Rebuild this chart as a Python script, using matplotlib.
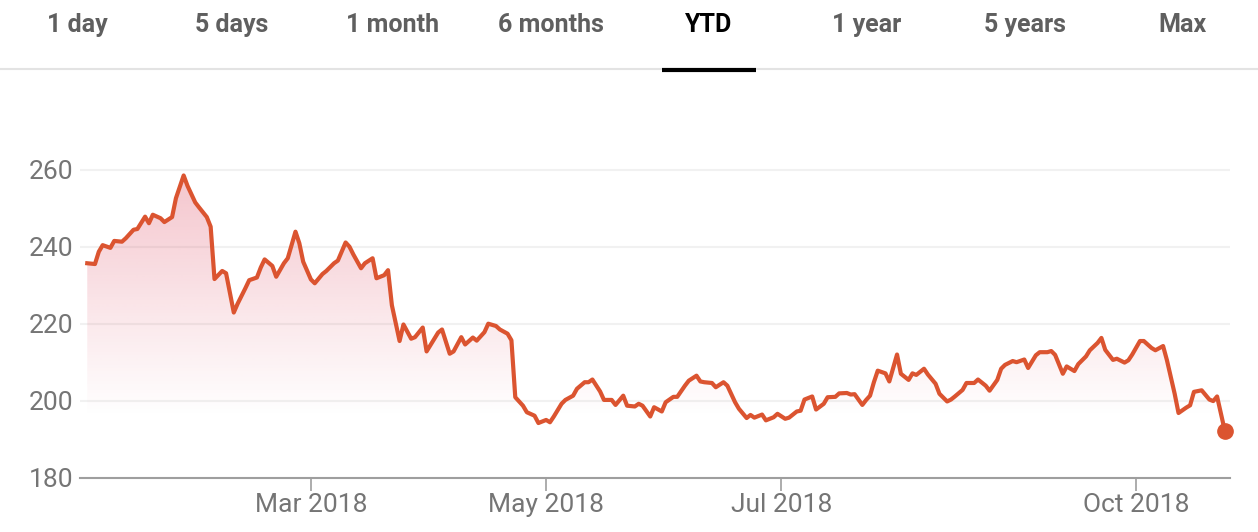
import numpy as np
import pandas as pd
import matplotlib
matplotlib.use("Agg")
import matplotlib.pyplot as plt
import matplotlib.dates as mdates

# days after 2018-01-01 and closing values
day = [1, 3, 4, 5, 7, 8, 10, 11, 13, 14, 16, 17, 18, 20, 21, 23, 24, 26, 27, 29,
       30, 32, 33, 34, 36, 37, 39, 40, 42, 43, 45, 46, 47, 49, 50,
       52, 53, 55, 56, 57, 59, 60, 62, 63, 65, 66, 68, 69, 70, 72, 73, 75, 76, 78,
       79, 80, 82, 83, 85, 86, 88, 89, 91, 92, 93, 95, 96, 98, 99, 101, 102,
       104, 105, 107, 108, 110, 111, 112, 114, 115, 117, 118, 120, 121, 122, 124,
       125, 127, 128, 130, 131, 132, 134, 135, 137, 138, 140, 141, 143, 144, 145,
       147, 148, 150, 151, 153,
       154, 156, 157, 159, 160, 161, 163, 164, 166, 167, 169, 170, 172, 173, 174,
       176, 177, 179, 180, 182, 183, 185, 186, 187, 189, 190, 192, 193, 195, 196,
       198, 199, 200, 202, 203,
       204, 205, 206, 208, 209, 211, 212, 214, 215, 216, 218, 219, 221, 222, 224,
       225, 226, 228, 229, 231, 232, 234, 235, 237, 238, 239, 241, 242, 244, 245,
       247, 248, 250, 251, 252,
       254, 255, 257, 258, 260, 261, 263, 264, 265, 267, 268, 270, 271, 272, 274,
       275, 277, 278, 280, 281, 283, 284, 286, 287, 288, 290, 292, 293, 294, 296]

close = [235.7, 235.5, 238.7, 240.4, 239.7, 241.5, 241.3, 242.2, 244.4, 244.6,
         247.8, 246.1, 248.3, 247.4, 246.4, 247.7, 252.6, 258.5, 255.8, 251.5,
         250.2, 247.7, 245.2, 231.6, 233.7, 233.1, 222.9, 225.2, 229.2, 231.3,
         232.0, 234.6, 236.7, 235.0, 232.2,
         235.7, 237.0, 243.9, 240.9, 236.1, 231.5, 230.5, 232.9, 233.7, 235.7,
         236.4, 241.1, 240.0, 238.0, 234.4, 235.7, 237.0, 231.8, 232.6, 233.9,
         224.8, 215.5, 219.8, 216.1, 216.5, 219.0, 212.8, 216.1, 217.7, 218.5,
         212.2, 212.8, 216.5, 214.6, 216.4, 215.6,
         217.8, 220.0, 219.4, 218.5, 217.4, 215.7, 200.9, 198.7, 197.0, 196.1,
         194.2, 195.0, 194.4, 195.9, 199.2, 200.2, 201.3, 203.1, 204.8, 204.8,
         205.5, 202.4, 200.2, 200.2, 198.9, 201.3, 198.7, 198.5, 199.2, 198.7,
         195.9, 198.3, 197.2, 199.6, 201.0,
         201.0, 203.9, 205.2, 206.5, 205.0, 204.8, 204.6, 203.5, 204.8, 203.9,
         199.6, 197.9, 195.5, 196.3, 195.6, 196.4, 194.9, 195.7, 196.6, 195.3,
         195.6, 197.2, 197.4, 200.3, 201.1, 197.7, 199.2, 200.9, 201.0, 201.9,
         202.0, 201.6, 201.7, 198.9, 200.2,
         201.3, 204.8, 207.8, 207.1, 205.0, 212.0, 207.0, 205.4, 207.1, 206.7,
         208.3, 206.8, 204.4, 201.8, 199.8, 200.3, 201.1, 202.8, 204.6, 204.6,
         205.5, 203.9, 202.6, 205.4, 208.3, 209.3, 210.3, 210.0, 210.7, 208.5,
         211.8, 212.6, 212.6, 212.9, 211.9,
         207.0, 208.9, 207.7, 209.5, 211.5, 213.1, 215.0, 216.3, 213.2, 210.6,
         210.9, 209.9, 210.5, 212.0, 215.5, 215.5, 213.7, 213.1, 214.2, 210.5,
         201.8, 196.8, 198.2, 198.8, 202.3, 202.7, 200.3, 199.9, 201.1, 192.2]

tabs = ["1 day", "5 days", "1 month", "6 months", "YTD", "1 year", "5 years", "Max"]
tab_x = [77, 232, 393, 551, 709, 867, 1025, 1183]
active = "YTD"

yticks = [180, 200, 220, 240, 260]
xticks = ["2018-03-01", "2018-05-01", "2018-07-01", "2018-10-01"]
xticklabels = ["Mar 2018", "May 2018", "Jul 2018", "Oct 2018"]

line_c = "#db5430"
W, H = 1258, 532

plt.rcParams["font.family"] = ["Roboto", "DejaVu Sans"]

t0 = pd.Timestamp("2018-01-01")
dates = t0 + pd.to_timedelta(day, unit="D")

fig = plt.figure(figsize=(W / 100, H / 100), dpi=100)
ax = fig.add_axes([80 / W, 1 - 477.7 / H, 1150 / W, (477.7 - 100) / H])

ax.set_ylim(180, 180 + 377.7 / 3.85)
ax.set_xlim(t0 + pd.Timedelta(days=-0.88), t0 + pd.Timedelta(days=297.35))

# gradient fill under the line, fading out towards ~196
poly = ax.fill_between(dates, close, 180, facecolor="none", edgecolor="none")
xl = ax.get_xlim()
yy = np.linspace(180, 262, 200)
alpha = np.clip((yy - 196) / 64, 0, None) * 0.3
grad = np.zeros((len(yy), 2, 4))
grad[..., 0] = 220 / 255
grad[..., 1] = 60 / 255
grad[..., 2] = 85 / 255
grad[..., 3] = alpha[:, None]
im = ax.imshow(grad, extent=[xl[0], xl[1], 180, 262], origin="lower",
               aspect="auto", zorder=1, interpolation="bilinear")
im.set_clip_path(poly.get_paths()[0], transform=ax.transData)

ax.plot(dates, close, color=line_c, lw=3.0, solid_joinstyle="round", zorder=3)
ax.plot(dates[-1:], close[-1:], "o", color=line_c, ms=11, zorder=4, clip_on=False)

for s in ["top", "right", "left"]:
    ax.spines[s].set_visible(False)
ax.spines["bottom"].set_color("#9e9e9e")
ax.spines["bottom"].set_linewidth(1.5)

ax.set_yticks(yticks)
ax.set_yticklabels([str(v) for v in yticks])
ax.set_xticks(pd.to_datetime(xticks))
ax.set_xticklabels(xticklabels)
ax.tick_params(axis="y", length=0, pad=5, labelsize=19, labelcolor="#757575")
ax.tick_params(axis="x", length=9.5, width=1.2, color="#9e9e9e", pad=1.5,
               labelsize=19, labelcolor="#757575")
for v in yticks[1:]:
    ax.axhline(v, color="#f1f1f1", lw=1.5, zorder=0)

# tab strip
for name, x in zip(tabs, tab_x):
    on = name == active
    fig.text(x / W, 1 - 32 / H, name, ha="center", va="baseline", fontsize=18,
             color="#000000" if on else "#5f5f5f", fontweight="bold")
fig.add_artist(plt.Line2D([0, 1], [1 - 68.5 / H] * 2, color="#e3e3e3", lw=1.5))
fig.add_artist(plt.Line2D([662 / W, 756 / W], [1 - 70 / H] * 2, color="#000000",
                          lw=3, solid_capstyle="butt"))

fig.savefig("out.png", dpi=100)
